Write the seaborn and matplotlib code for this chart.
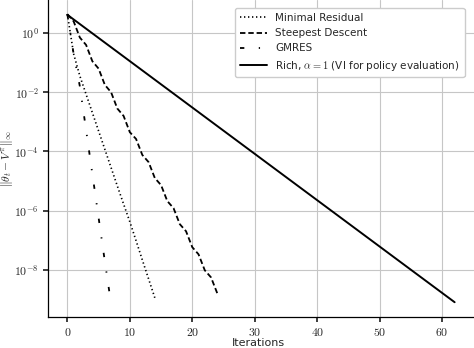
import numpy as np
import pandas as pd
import matplotlib
matplotlib.use("Agg")
import matplotlib.pyplot as plt
import matplotlib.ticker as mticker
import seaborn as sns

# ---- data (log10 of error) ----
mr_iter = list(range(0, 15))
mr_log = [0.64, -0.70, -1.45, -2.07, -2.69, -3.31, -3.93, -4.55, -5.17,
          -5.78, -6.38, -7.02, -7.67, -8.31, -8.95]

sd_iter = list(range(0, 25))
sd_log = [0.64, 0.40, -0.15, -0.40, -0.95, -1.20, -1.75, -2.00, -2.55,
          -2.80, -3.35, -3.58, -4.12, -4.36, -4.90, -5.14, -5.68, -5.92,
          -6.46, -6.70, -7.24, -7.48, -8.02, -8.26, -8.80]

gm_iter = list(range(0, 8))
gm_log = [0.64, -0.70, -1.80, -3.28, -4.76, -6.24, -7.72, -9.15]

rich_iter = [0, 62]
rich_log = [0.62, -9.10]

labels = ["Minimal Residual", "Steepest Descent", "GMRES",
          r"Rich, $\alpha = 1$ (VI for policy evaluation)"]

frames = []
for lab, xs, ys in zip(labels, [mr_iter, sd_iter, gm_iter, rich_iter],
                       [mr_log, sd_log, gm_log, rich_log]):
    frames.append(pd.DataFrame({"it": xs, "err": 10.0 ** np.array(ys), "method": lab}))
df = pd.concat(frames, ignore_index=True)

sns.set_theme(style="ticks", rc={
    "axes.grid": True,
    "grid.color": "#c6c6c6",
    "grid.linewidth": 0.8,
    "axes.edgecolor": "black",
    "axes.linewidth": 0.9,
    "xtick.major.size": 3.5,
    "ytick.major.size": 3.5,
})
plt.rcParams["mathtext.fontset"] = "cm"
plt.rcParams["font.family"] = ["DejaVu Sans"]

fig = plt.figure(figsize=(4.74, 3.48), dpi=100)
ax = fig.add_axes([48 / 474, 31 / 348, 1 - 48 / 474, 1 - 31 / 348])

styles = {
    labels[0]: dict(lw=1.2, dashes=(0.8, 1.6)),
    labels[1]: dict(lw=1.3, dashes=(3.0, 1.6)),
    labels[2]: dict(lw=1.3, dashes=(2.4, 8.0, 0.7, 8.0)),
    labels[3]: dict(lw=1.4, dashes=()),
}

for lab in labels:
    sub = df[df["method"] == lab]
    st = styles[lab]
    sns.lineplot(data=sub, x="it", y="err", ax=ax, color="black",
                 lw=st["lw"], label=lab, legend=False)
    l = ax.get_lines()[-1]
    if st["dashes"]:
        l.set_dashes(st["dashes"])
    else:
        l.set_linestyle("-")

ax.set_yscale("log")
ax.set_xlim(-3.1, 65.1)
ax.set_ylim(10 ** -9.6, 10 ** 1.12)
ax.yaxis.set_major_locator(mticker.FixedLocator([1e0, 1e-2, 1e-4, 1e-6, 1e-8]))
ax.yaxis.set_minor_locator(mticker.NullLocator())
ax.yaxis.set_major_formatter(mticker.FuncFormatter(
    lambda v, p: r"$10^{%d}$" % int(round(np.log10(v)))))
ax.xaxis.set_major_locator(mticker.FixedLocator([0, 10, 20, 30, 40, 50, 60]))
ax.xaxis.set_major_formatter(mticker.FuncFormatter(lambda v, p: r"$%d$" % v))
ax.tick_params(labelsize=8.5, pad=3)

ax.set_xlabel("Iterations", fontsize=8)
ax.xaxis.set_label_coords((258 - 48) / 426, -21 / 317)
ax.set_ylabel(r"$\|\theta_t - V^\pi\|_\infty$", fontsize=8.3)
ax.yaxis.set_label_coords(-33 / 426, 0.5)

leg = ax.legend(loc="upper right", fontsize=7.5, frameon=True, fancybox=True,
                edgecolor="#cccccc", framealpha=1.0, handlelength=2.6,
                borderpad=0.45, labelspacing=0.5, bbox_to_anchor=(0.99, 0.99))
for h, lab in zip(leg.get_lines(), labels):
    st = styles[lab]
    h.set_linewidth(st["lw"])
    if st["dashes"]:
        h.set_dashes(st["dashes"])

for s in ["top", "right"]:
    ax.spines[s].set_visible(False)

fig.savefig("out.png", dpi=100, facecolor="white")
